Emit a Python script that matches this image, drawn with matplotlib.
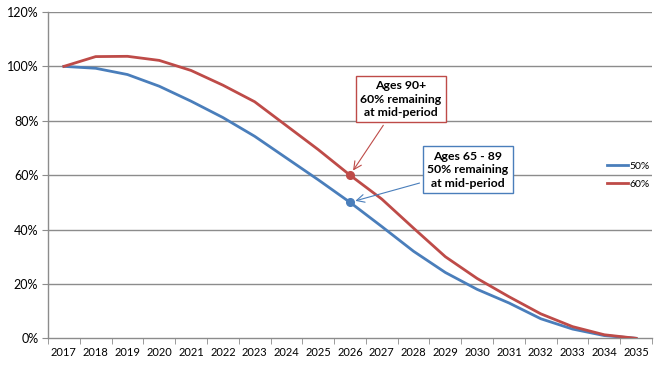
import matplotlib
matplotlib.use('Agg')
import matplotlib.pyplot as plt
import numpy as np

# years on the category axis
years = [str(y) for y in range(2017, 2036)]

# share remaining, percent
ages_65_89 = [100, 99.3, 97.0, 92.7, 87.2, 81.2, 74.3, 66.3, 58.3, 50.0,
              41.1, 32.0, 24.2, 18.0, 13.0, 7.2, 3.4, 1.0, 0.0]
ages_90 = [100, 103.6, 103.7, 102.2, 98.5, 93.1, 87.0, 78.2, 69.4, 60.0,
           51.2, 40.5, 30.0, 22.0, 15.3, 9.0, 4.3, 1.3, 0.0]

series_labels = ['50%', '60%']
yticks = [0, 20, 40, 60, 80, 100, 120]
mid_year = '2026'

blue = '#4a7ebb'
red = '#be4b48'
grid_c = '#8c8c8c'

plt.rcParams['font.family'] = ['Lato', 'DejaVu Sans']

fig = plt.figure(figsize=(6.59, 3.67), dpi=100)
ax = fig.add_axes([48 / 659, 1 - 338.3 / 367, (652 - 48) / 659, (338.3 - 12) / 367])

x = np.arange(len(years))
ax.plot(x, ages_65_89, color=blue, lw=2.0, label=series_labels[0], zorder=3)
ax.plot(x, ages_90, color=red, lw=2.0, label=series_labels[1], zorder=3)

mi = years.index(mid_year)
ax.plot(x[mi], ages_90[mi], 'o', color=red, ms=5.5, zorder=4)
ax.plot(x[mi], ages_65_89[mi], 'o', color=blue, ms=5.5, zorder=4)

ax.set_xlim(-0.5, len(years) - 0.5)
ax.set_ylim(0, 120)
ax.set_yticks(yticks)
ax.set_yticklabels(['{}%'.format(v) for v in yticks])
ax.set_xticks(x)
ax.set_xticklabels(years)
ax.set_xticks(np.arange(-0.5, len(years), 1), minor=True)

for v in yticks[1:]:
    ax.axhline(v, color=grid_c, lw=1.0, zorder=1)

for s in ['top', 'right']:
    ax.spines[s].set_visible(False)
for s in ['left', 'bottom']:
    ax.spines[s].set_color(grid_c)
    ax.spines[s].set_linewidth(1.0)

ax.tick_params(axis='x', which='major', length=0, labelsize=8, pad=6, colors='black')
ax.tick_params(axis='x', which='minor', length=4, color=grid_c, direction='out')
ax.tick_params(axis='y', length=4, color=grid_c, labelsize=9, pad=3)

# callouts
ax.annotate('Ages 90+\n60% remaining\nat mid-period',
            xy=(x[mi], ages_90[mi]), xytext=(x[mi] + 1.6, 88),
            ha='center', va='center', fontsize=8.8, fontweight='bold',
            linespacing=1.3,
            bbox=dict(boxstyle='square,pad=0.35', fc='white', ec=red, lw=1.0),
            arrowprops=dict(arrowstyle='->', color=red, lw=0.8, shrinkB=4,
                            mutation_scale=14),
            zorder=5)
ax.annotate('Ages 65 - 89\n50% remaining\nat mid-period',
            xy=(x[mi], ages_65_89[mi]), xytext=(x[mi] + 3.7, 62),
            ha='center', va='center', fontsize=8.8, fontweight='bold',
            linespacing=1.3,
            bbox=dict(boxstyle='square,pad=0.35', fc='white', ec=blue, lw=1.0),
            arrowprops=dict(arrowstyle='->', color=blue, lw=0.8, shrinkB=4,
                            mutation_scale=14),
            zorder=5)

ax.legend(loc='center left', bbox_to_anchor=(0.914, 0.5), frameon=False,
          fontsize=7.5, handlelength=2.0, handletextpad=0.1, labelspacing=0.8,
          borderpad=0.2)

fig.savefig('out.png', dpi=100)
